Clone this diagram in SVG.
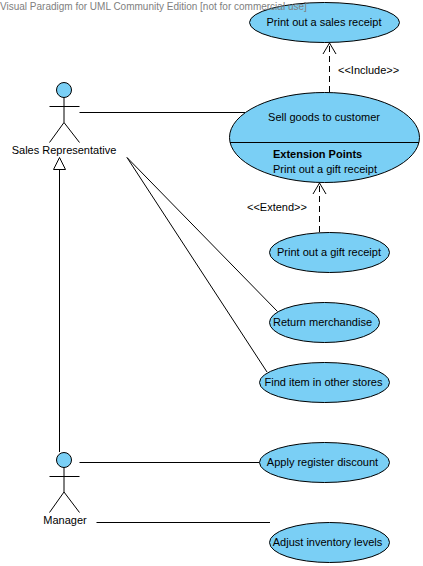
<svg xmlns="http://www.w3.org/2000/svg" width="423" height="566" viewBox="0 0 423 566">
<style>
text{font-family:"Liberation Sans",Arial,sans-serif;font-size:11px;fill:#000}
.uc{fill:#7ACFF5;stroke:#000;stroke-width:1}
.ln{fill:none;stroke:#000;stroke-width:1}
.da{stroke-dasharray:6 4}
.m{text-anchor:middle}
.wm{fill:#808080;font-size:10px}
</style>
<rect width="423" height="566" fill="#fff"/>
<g id="connectors">
<path class="ln" d="M79.5 112.5H245"/>
<path class="ln" d="M127 157.5L277.5 311.5"/>
<path class="ln" d="M127 157.5L267 372"/>
<path class="ln" d="M79.5 462.5H259.5"/>
<path class="ln" d="M96.5 522.5H270"/>
<path class="ln" d="M59.5 169.5V452"/>
<path class="ln" d="M59.5 157.5L65.5 169.5H53.5Z"/>
<path class="ln da" d="M329.5 92V44"/>
<path class="ln" d="M323 54L329.5 43L336 54"/>
<path class="ln da" d="M319.5 232V184"/>
<path class="ln" d="M313 194L319.5 183L326 194"/>
<text x="338" y="74">&lt;&lt;Include&gt;&gt;</text>
<text x="247" y="211">&lt;&lt;Extend&gt;&gt;</text>
</g>
<g id="actor-sales">
<circle class="uc" cx="64" cy="90" r="7.5"/>
<path class="ln" d="M49.5 106.5H79.5M64 97.5V122.5L49.5 142.5M64 122.5L79.5 142.5"/>
<text class="m" x="64" y="154">Sales Representative</text>
</g>
<g id="actor-manager">
<circle class="uc" cx="64" cy="460" r="7.5"/>
<path class="ln" d="M49.5 476.5H79.5M64 467.5V492L49.5 512.5M64 492L79.5 512.5"/>
<text class="m" x="65" y="524">Manager</text>
</g>
<g id="uc-sales-receipt">
<ellipse class="uc" cx="324.5" cy="22.5" rx="75" ry="20"/>
<text class="m" x="324" y="26">Print out a sales receipt</text>
</g>
<g id="uc-sell-goods">
<ellipse class="uc" cx="324.5" cy="137.5" rx="95" ry="45"/>
<path class="ln" d="M230 142.5H419"/>
<text class="m" x="324" y="121">Sell goods to customer</text>
<text x="273" y="158" font-weight="bold">Extension Points</text>
<text x="273" y="173">Print out a gift receipt</text>
</g>
<g id="uc-gift-receipt">
<ellipse class="uc" cx="329.5" cy="252.5" rx="60" ry="20"/>
<text class="m" x="329" y="256">Print out a gift receipt</text>
</g>
<g id="uc-return">
<ellipse class="uc" cx="324.5" cy="322.5" rx="55" ry="20"/>
<text class="m" x="322.5" y="326">Return merchandise</text>
</g>
<g id="uc-find">
<ellipse class="uc" cx="324.5" cy="382.5" rx="65" ry="20"/>
<text class="m" x="323.5" y="386">Find item in other stores</text>
</g>
<g id="uc-apply">
<ellipse class="uc" cx="324.5" cy="462.5" rx="65" ry="20"/>
<text class="m" x="322.5" y="466">Apply register discount</text>
</g>
<g id="uc-adjust">
<ellipse class="uc" cx="329.5" cy="542.5" rx="60" ry="20"/>
<text class="m" x="327.5" y="546">Adjust inventory levels</text>
</g>
<text class="wm" x="0" y="10">Visual Paradigm for UML Community Edition [not for commercial use]</text>
</svg>
